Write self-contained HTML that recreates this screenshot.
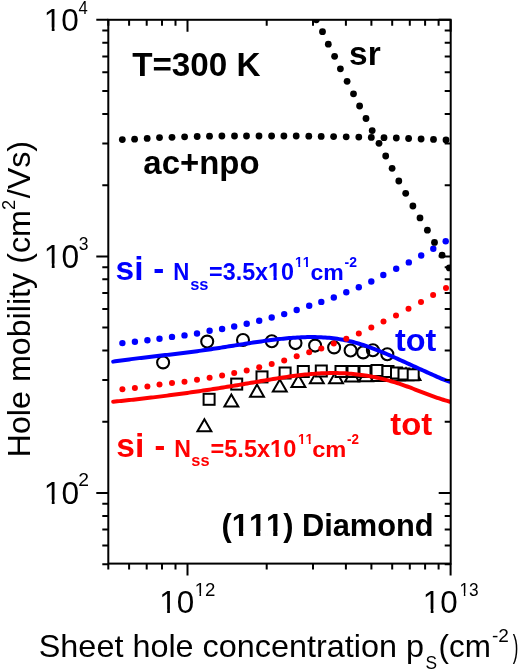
<!DOCTYPE html><html><head><meta charset="utf-8"><style>html,body{margin:0;padding:0;background:#fff;width:520px;height:672px;overflow:hidden}svg{display:block}text{font-family:"Liberation Sans",Arial,sans-serif;white-space:pre;font-kerning:none;font-feature-settings:"kern" 0}</style></head><body><svg width="520" height="672" viewBox="0 0 520 672"><defs><clipPath id="pc"><rect x="108.3" y="19.8" width="342.4" height="543.8"/></clipPath></defs><g clip-path="url(#pc)"><path d="M204.40 419.21L211.35 431.25L197.45 431.25Z" fill="#fff" stroke="#000" stroke-width="2.0" stroke-linejoin="miter"/><path d="M231.35 394.51L238.30 406.55L224.40 406.55Z" fill="#fff" stroke="#000" stroke-width="2.0" stroke-linejoin="miter"/><path d="M257.00 384.61L263.95 396.65L250.05 396.65Z" fill="#fff" stroke="#000" stroke-width="2.0" stroke-linejoin="miter"/><path d="M279.80 379.41L286.75 391.45L272.85 391.45Z" fill="#fff" stroke="#000" stroke-width="2.0" stroke-linejoin="miter"/><path d="M298.40 375.01L305.35 387.05L291.45 387.05Z" fill="#fff" stroke="#000" stroke-width="2.0" stroke-linejoin="miter"/><path d="M316.80 371.31L323.75 383.35L309.85 383.35Z" fill="#fff" stroke="#000" stroke-width="2.0" stroke-linejoin="miter"/><path d="M336.00 371.11L342.95 383.15L329.05 383.15Z" fill="#fff" stroke="#000" stroke-width="2.0" stroke-linejoin="miter"/><path d="M352.00 369.51L358.95 381.55L345.05 381.55Z" fill="#fff" stroke="#000" stroke-width="2.0" stroke-linejoin="miter"/><path d="M366.00 369.21L372.95 381.25L359.05 381.25Z" fill="#fff" stroke="#000" stroke-width="2.0" stroke-linejoin="miter"/><path d="M378.00 368.91L384.95 380.95L371.05 380.95Z" fill="#fff" stroke="#000" stroke-width="2.0" stroke-linejoin="miter"/><path d="M389.00 368.71L395.95 380.75L382.05 380.75Z" fill="#fff" stroke="#000" stroke-width="2.0" stroke-linejoin="miter"/><path d="M398.00 368.41L404.95 380.45L391.05 380.45Z" fill="#fff" stroke="#000" stroke-width="2.0" stroke-linejoin="miter"/><path d="M406.00 368.21L412.95 380.25L399.05 380.25Z" fill="#fff" stroke="#000" stroke-width="2.0" stroke-linejoin="miter"/><path d="M413.50 367.91L420.45 379.95L406.55 379.95Z" fill="#fff" stroke="#000" stroke-width="2.0" stroke-linejoin="miter"/><rect x="203.60" y="393.80" width="11.0" height="11.0" fill="#fff" stroke="#000" stroke-width="2"/><rect x="231.20" y="378.60" width="11.0" height="11.0" fill="#fff" stroke="#000" stroke-width="2"/><rect x="256.50" y="371.40" width="11.0" height="11.0" fill="#fff" stroke="#000" stroke-width="2"/><rect x="279.60" y="367.50" width="11.0" height="11.0" fill="#fff" stroke="#000" stroke-width="2"/><rect x="297.80" y="366.00" width="11.0" height="11.0" fill="#fff" stroke="#000" stroke-width="2"/><rect x="315.80" y="365.50" width="11.0" height="11.0" fill="#fff" stroke="#000" stroke-width="2"/><rect x="335.50" y="366.00" width="11.0" height="11.0" fill="#fff" stroke="#000" stroke-width="2"/><rect x="347.50" y="366.00" width="11.0" height="11.0" fill="#fff" stroke="#000" stroke-width="2"/><rect x="359.50" y="366.00" width="11.0" height="11.0" fill="#fff" stroke="#000" stroke-width="2"/><rect x="371.50" y="365.00" width="11.0" height="11.0" fill="#fff" stroke="#000" stroke-width="2"/><rect x="382.50" y="366.00" width="11.0" height="11.0" fill="#fff" stroke="#000" stroke-width="2"/><rect x="391.00" y="367.50" width="11.0" height="11.0" fill="#fff" stroke="#000" stroke-width="2"/><rect x="398.50" y="368.50" width="11.0" height="11.0" fill="#fff" stroke="#000" stroke-width="2"/><rect x="407.70" y="369.30" width="11.0" height="11.0" fill="#fff" stroke="#000" stroke-width="2"/><circle cx="163.1" cy="362.4" r="6" fill="none" stroke="#000" stroke-width="2.1"/><circle cx="207.2" cy="341.6" r="6" fill="none" stroke="#000" stroke-width="2.1"/><circle cx="243" cy="340" r="6" fill="none" stroke="#000" stroke-width="2.1"/><circle cx="271.8" cy="341.2" r="6" fill="none" stroke="#000" stroke-width="2.1"/><circle cx="295.5" cy="343.1" r="6" fill="none" stroke="#000" stroke-width="2.1"/><circle cx="315.1" cy="345.6" r="6" fill="none" stroke="#000" stroke-width="2.1"/><circle cx="334.1" cy="347.4" r="6" fill="none" stroke="#000" stroke-width="2.1"/><circle cx="350.6" cy="350.5" r="6" fill="none" stroke="#000" stroke-width="2.1"/><circle cx="363.2" cy="352.4" r="6" fill="none" stroke="#000" stroke-width="2.1"/><circle cx="372.9" cy="350.2" r="6" fill="none" stroke="#000" stroke-width="2.1"/><circle cx="387.3" cy="354.2" r="6" fill="none" stroke="#000" stroke-width="2.1"/><path d="M113.2 361.64 L115.2 361.34 L117.2 361.04 L119.2 360.76 L121.2 360.47 L123.2 360.20 L125.2 359.93 L127.2 359.66 L129.2 359.40 L131.2 359.14 L133.2 358.88 L135.2 358.63 L137.2 358.38 L139.2 358.13 L141.2 357.89 L143.2 357.65 L145.2 357.41 L147.2 357.18 L149.2 356.94 L151.2 356.71 L153.2 356.48 L155.2 356.25 L157.2 356.02 L159.2 355.79 L161.2 355.56 L163.2 355.33 L165.2 355.10 L167.2 354.87 L169.2 354.64 L171.2 354.40 L173.2 354.17 L175.2 353.93 L177.2 353.70 L179.2 353.46 L181.2 353.22 L183.2 352.97 L185.2 352.72 L187.2 352.47 L189.2 352.22 L191.2 351.96 L193.2 351.70 L195.2 351.44 L197.2 351.17 L199.2 350.89 L201.2 350.61 L203.2 350.33 L205.2 350.04 L207.2 349.75 L209.2 349.45 L211.2 349.15 L213.2 348.84 L215.2 348.54 L217.2 348.23 L219.2 347.92 L221.2 347.60 L223.2 347.29 L225.2 346.97 L227.2 346.65 L229.2 346.34 L231.2 346.02 L233.2 345.70 L235.2 345.38 L237.2 345.06 L239.2 344.75 L241.2 344.43 L243.2 344.12 L245.2 343.80 L247.2 343.49 L249.2 343.19 L251.2 342.88 L253.2 342.58 L255.2 342.28 L257.2 341.99 L259.2 341.70 L261.2 341.41 L263.2 341.13 L265.2 340.85 L267.2 340.58 L269.2 340.32 L271.2 340.06 L273.2 339.81 L275.2 339.56 L277.2 339.32 L279.2 339.09 L281.2 338.87 L283.2 338.66 L285.2 338.46 L287.2 338.27 L289.2 338.09 L291.2 337.92 L293.2 337.77 L295.2 337.63 L297.2 337.50 L299.2 337.39 L301.2 337.29 L303.2 337.21 L305.2 337.15 L307.2 337.10 L309.2 337.07 L311.2 337.05 L313.2 337.06 L315.2 337.09 L317.2 337.13 L319.2 337.20 L321.2 337.28 L323.2 337.39 L325.2 337.52 L327.2 337.68 L329.2 337.86 L331.2 338.06 L333.2 338.29 L335.2 338.54 L337.2 338.82 L339.2 339.12 L341.2 339.46 L343.2 339.82 L345.2 340.21 L347.2 340.63 L349.2 341.08 L351.2 341.55 L353.2 342.06 L355.2 342.60 L357.2 343.17 L359.2 343.76 L361.2 344.38 L363.2 345.02 L365.2 345.69 L367.2 346.38 L369.2 347.09 L371.2 347.82 L373.2 348.57 L375.2 349.33 L377.2 350.12 L379.2 350.92 L381.2 351.73 L383.2 352.56 L385.2 353.41 L387.2 354.26 L389.2 355.12 L391.2 356.00 L393.2 356.88 L395.2 357.77 L397.2 358.66 L399.2 359.56 L401.2 360.47 L403.2 361.38 L405.2 362.29 L407.2 363.20 L409.2 364.11 L411.2 365.03 L413.2 365.95 L415.2 366.86 L417.2 367.78 L419.2 368.70 L421.2 369.61 L423.2 370.52 L425.2 371.43 L427.2 372.34 L429.2 373.24 L431.2 374.14 L433.2 375.04 L435.2 375.93 L437.2 376.81 L439.2 377.69 L441.2 378.56 L443.2 379.40 L445.2 380.20 L447.2 380.91 L449.2 381.52 L451.2 381.99 L452.0 382.13" fill="none" stroke="#0000ff" stroke-width="4" stroke-linecap="round" stroke-linejoin="round"/><path d="M113.2 401.70 L115.2 401.51 L117.2 401.32 L119.2 401.12 L121.2 400.92 L123.2 400.72 L125.2 400.51 L127.2 400.31 L129.2 400.10 L131.2 399.88 L133.2 399.67 L135.2 399.45 L137.2 399.23 L139.2 399.00 L141.2 398.78 L143.2 398.55 L145.2 398.32 L147.2 398.08 L149.2 397.85 L151.2 397.61 L153.2 397.37 L155.2 397.12 L157.2 396.88 L159.2 396.63 L161.2 396.38 L163.2 396.12 L165.2 395.87 L167.2 395.61 L169.2 395.35 L171.2 395.09 L173.2 394.82 L175.2 394.55 L177.2 394.28 L179.2 394.01 L181.2 393.74 L183.2 393.46 L185.2 393.18 L187.2 392.90 L189.2 392.62 L191.2 392.33 L193.2 392.04 L195.2 391.75 L197.2 391.46 L199.2 391.17 L201.2 390.87 L203.2 390.57 L205.2 390.27 L207.2 389.97 L209.2 389.66 L211.2 389.36 L213.2 389.05 L215.2 388.74 L217.2 388.42 L219.2 388.11 L221.2 387.79 L223.2 387.47 L225.2 387.15 L227.2 386.83 L229.2 386.50 L231.2 386.18 L233.2 385.85 L235.2 385.52 L237.2 385.19 L239.2 384.85 L241.2 384.52 L243.2 384.18 L245.2 383.84 L247.2 383.50 L249.2 383.15 L251.2 382.81 L253.2 382.46 L255.2 382.12 L257.2 381.77 L259.2 381.42 L261.2 381.08 L263.2 380.73 L265.2 380.39 L267.2 380.05 L269.2 379.71 L271.2 379.38 L273.2 379.05 L275.2 378.72 L277.2 378.40 L279.2 378.08 L281.2 377.77 L283.2 377.46 L285.2 377.16 L287.2 376.87 L289.2 376.58 L291.2 376.30 L293.2 376.03 L295.2 375.77 L297.2 375.52 L299.2 375.28 L301.2 375.04 L303.2 374.82 L305.2 374.61 L307.2 374.41 L309.2 374.22 L311.2 374.04 L313.2 373.88 L315.2 373.73 L317.2 373.59 L319.2 373.47 L321.2 373.36 L323.2 373.27 L325.2 373.19 L327.2 373.13 L329.2 373.09 L331.2 373.06 L333.2 373.05 L335.2 373.06 L337.2 373.08 L339.2 373.13 L341.2 373.19 L343.2 373.27 L345.2 373.37 L347.2 373.50 L349.2 373.64 L351.2 373.80 L353.2 373.98 L355.2 374.18 L357.2 374.40 L359.2 374.64 L361.2 374.90 L363.2 375.18 L365.2 375.48 L367.2 375.80 L369.2 376.14 L371.2 376.50 L373.2 376.88 L375.2 377.28 L377.2 377.71 L379.2 378.15 L381.2 378.61 L383.2 379.09 L385.2 379.60 L387.2 380.12 L389.2 380.67 L391.2 381.23 L393.2 381.82 L395.2 382.43 L397.2 383.06 L399.2 383.71 L401.2 384.38 L403.2 385.07 L405.2 385.78 L407.2 386.50 L409.2 387.24 L411.2 387.99 L413.2 388.75 L415.2 389.51 L417.2 390.28 L419.2 391.06 L421.2 391.83 L423.2 392.60 L425.2 393.37 L427.2 394.13 L429.2 394.88 L431.2 395.63 L433.2 396.36 L435.2 397.07 L437.2 397.77 L439.2 398.46 L441.2 399.12 L443.2 399.75 L445.2 400.36 L447.2 400.95 L449.2 401.50 L451.2 402.03 L452.0 402.23" fill="none" stroke="#ff0000" stroke-width="4" stroke-linecap="round" stroke-linejoin="round"/><g fill="#0000ff"><circle cx="122.4" cy="343.1" r="3.2"/><circle cx="134.9" cy="341.7" r="3.2"/><circle cx="147.4" cy="340.2" r="3.2"/><circle cx="159.5" cy="338.8" r="3.2"/><circle cx="172" cy="336.9" r="3.2"/><circle cx="184.5" cy="335.4" r="3.2"/><circle cx="197" cy="333.5" r="3.2"/><circle cx="209.6" cy="330.8" r="3.2"/><circle cx="222.1" cy="329" r="3.2"/><circle cx="234.2" cy="326.5" r="3.2"/><circle cx="246.7" cy="323.7" r="3.2"/><circle cx="259.2" cy="320.8" r="3.2"/><circle cx="271.7" cy="317.5" r="3.2"/><circle cx="284.2" cy="314.1" r="3.2"/><circle cx="296.7" cy="310" r="3.2"/><circle cx="309.2" cy="305.8" r="3.2"/><circle cx="321.3" cy="301.9" r="3.2"/><circle cx="333.8" cy="297.5" r="3.2"/><circle cx="346.3" cy="292.3" r="3.2"/><circle cx="358.8" cy="287.3" r="3.2"/><circle cx="371.3" cy="281.5" r="3.2"/><circle cx="383.3" cy="275" r="3.2"/><circle cx="396.2" cy="268.8" r="3.2"/><circle cx="408.8" cy="262.4" r="3.2"/><circle cx="421.2" cy="255.5" r="3.2"/><circle cx="433.3" cy="248.8" r="3.2"/><circle cx="445.7" cy="241.2" r="3.2"/></g><g fill="#ff0000"><circle cx="122.4" cy="389.2" r="3.0"/><circle cx="134.9" cy="387.9" r="3.0"/><circle cx="147.4" cy="386.5" r="3.0"/><circle cx="159.5" cy="384.6" r="3.0"/><circle cx="172" cy="383.1" r="3.0"/><circle cx="184.5" cy="381.7" r="3.0"/><circle cx="197" cy="379.8" r="3.0"/><circle cx="209.6" cy="377.7" r="3.0"/><circle cx="222.1" cy="375.4" r="3.0"/><circle cx="234.2" cy="372.9" r="3.0"/><circle cx="246.7" cy="370.5" r="3.0"/><circle cx="259.2" cy="367.2" r="3.0"/><circle cx="271.7" cy="364" r="3.0"/><circle cx="284.2" cy="360.4" r="3.0"/><circle cx="296.7" cy="356.2" r="3.0"/><circle cx="309.2" cy="352.3" r="3.0"/><circle cx="321.3" cy="348.5" r="3.0"/><circle cx="333.8" cy="343.5" r="3.0"/><circle cx="346.3" cy="338.7" r="3.0"/><circle cx="358.8" cy="333.5" r="3.0"/><circle cx="371.3" cy="327.5" r="3.0"/><circle cx="383.5" cy="321.5" r="3.0"/><circle cx="396" cy="315.6" r="3.0"/><circle cx="408.5" cy="308.8" r="3.0"/><circle cx="421" cy="302.1" r="3.0"/><circle cx="433.1" cy="295" r="3.0"/><circle cx="446" cy="287.9" r="3.0"/></g><g fill="#000"><circle cx="122.3" cy="139.6" r="3.4"/><circle cx="134.6" cy="139.2" r="3.4"/><circle cx="147.2" cy="138.4" r="3.4"/><circle cx="159.5" cy="137.6" r="3.4"/><circle cx="172" cy="137.3" r="3.4"/><circle cx="184.6" cy="136.8" r="3.4"/><circle cx="197.2" cy="136.5" r="3.4"/><circle cx="209.5" cy="136.2" r="3.4"/><circle cx="221.9" cy="136" r="3.4"/><circle cx="234.5" cy="136" r="3.4"/><circle cx="246.5" cy="136" r="3.4"/><circle cx="259" cy="136" r="3.4"/><circle cx="271.6" cy="136" r="3.4"/><circle cx="283.9" cy="136" r="3.4"/><circle cx="296.2" cy="136" r="3.4"/><circle cx="308.8" cy="136.2" r="3.4"/><circle cx="321.2" cy="136.4" r="3.4"/><circle cx="333.6" cy="136.6" r="3.4"/><circle cx="346.2" cy="136.8" r="3.4"/><circle cx="358.8" cy="137.1" r="3.4"/><circle cx="371.3" cy="137.4" r="3.4"/><circle cx="384" cy="137.7" r="3.4"/><circle cx="396.3" cy="138" r="3.4"/><circle cx="408.6" cy="138.5" r="3.4"/><circle cx="421.1" cy="139" r="3.4"/><circle cx="433.5" cy="139.4" r="3.4"/><circle cx="446" cy="140" r="3.4"/><circle cx="316.3" cy="19.8" r="3.4"/><circle cx="322.5" cy="31.7" r="3.4"/><circle cx="328.3" cy="44.2" r="3.4"/><circle cx="334.6" cy="56.3" r="3.4"/><circle cx="340.4" cy="68.8" r="3.4"/><circle cx="347.1" cy="81.3" r="3.4"/><circle cx="353.5" cy="93.8" r="3.4"/><circle cx="359.6" cy="106" r="3.4"/><circle cx="366" cy="118.5" r="3.4"/><circle cx="372.2" cy="130.6" r="3.4"/><circle cx="379" cy="143.3" r="3.4"/><circle cx="385.7" cy="156" r="3.4"/><circle cx="392.1" cy="168.3" r="3.4"/><circle cx="398.8" cy="181" r="3.4"/><circle cx="405.7" cy="193.3" r="3.4"/><circle cx="412.9" cy="206" r="3.4"/><circle cx="420" cy="217.9" r="3.4"/><circle cx="427.4" cy="230.2" r="3.4"/><circle cx="434.5" cy="242.4" r="3.4"/><circle cx="442.1" cy="255.2" r="3.4"/><circle cx="449.3" cy="267.9" r="3.4"/></g></g><rect x="108.3" y="19.8" width="342.4" height="543.8" fill="none" stroke="#000" stroke-width="2"/><path d="M102.3 564.2H108.3M450.7 564.2H444.7M102.3 545.5H108.3M450.7 545.5H444.7M102.3 529.6H108.3M450.7 529.6H444.7M102.3 515.9H108.3M450.7 515.9H444.7M102.3 503.8H108.3M450.7 503.8H444.7M96.3 493.0H108.3M450.7 493.0H438.7M102.3 421.8H108.3M450.7 421.8H444.7M102.3 380.1H108.3M450.7 380.1H444.7M102.3 350.6H108.3M450.7 350.6H444.7M102.3 327.6H108.3M450.7 327.6H444.7M102.3 308.9H108.3M450.7 308.9H444.7M102.3 293.0H108.3M450.7 293.0H444.7M102.3 279.3H108.3M450.7 279.3H444.7M102.3 267.2H108.3M450.7 267.2H444.7M96.3 256.4H108.3M450.7 256.4H438.7M102.3 185.2H108.3M450.7 185.2H444.7M102.3 143.5H108.3M450.7 143.5H444.7M102.3 114.0H108.3M450.7 114.0H444.7M102.3 91.0H108.3M450.7 91.0H444.7M102.3 72.3H108.3M450.7 72.3H444.7M102.3 56.4H108.3M450.7 56.4H444.7M102.3 42.7H108.3M450.7 42.7H444.7M102.3 30.6H108.3M450.7 30.6H444.7M96.3 19.8H108.3M450.7 19.8H438.7M108.3 563.6V569.6M108.3 19.8V25.8M129.1 563.6V569.6M129.1 19.8V25.8M146.7 563.6V569.6M146.7 19.8V25.8M162.0 563.6V569.6M162.0 19.8V25.8M175.5 563.6V569.6M175.5 19.8V25.8M187.5 563.6V575.6M187.5 19.8V31.8M266.7 563.6V569.6M266.7 19.8V25.8M313.0 563.6V569.6M313.0 19.8V25.8M345.9 563.6V569.6M345.9 19.8V25.8M371.4 563.6V569.6M371.4 19.8V25.8M392.2 563.6V569.6M392.2 19.8V25.8M409.8 563.6V569.6M409.8 19.8V25.8M425.1 563.6V569.6M425.1 19.8V25.8M438.6 563.6V569.6M438.6 19.8V25.8M450.6 563.6V575.6M450.6 19.8V31.8" stroke="#000" stroke-width="2" fill="none"/><text x="43.82" y="31.44" font-size="31.78" textLength="35.06" lengthAdjust="spacingAndGlyphs">10</text><text x="78.57" y="13.95" font-size="18.50" textLength="9.27" lengthAdjust="spacingAndGlyphs">4</text><text x="43.80" y="267.53" font-size="32.49" textLength="35.28" lengthAdjust="spacingAndGlyphs">10</text><text x="78.78" y="250.05" font-size="18.50" textLength="9.74" lengthAdjust="spacingAndGlyphs">3</text><text x="43.80" y="503.84" font-size="32.20" textLength="35.28" lengthAdjust="spacingAndGlyphs">10</text><text x="78.18" y="486.40" font-size="18.50" textLength="10.74" lengthAdjust="spacingAndGlyphs">2</text><text x="159.23" y="613.24" font-size="31.92" textLength="34.94" lengthAdjust="spacingAndGlyphs">10</text><text x="194.76" y="595.75" font-size="18.50" textLength="20.73" lengthAdjust="spacingAndGlyphs">12</text><text x="422.84" y="613.24" font-size="31.92" textLength="34.83" lengthAdjust="spacingAndGlyphs">10</text><text x="459.49" y="595.75" font-size="18.50" textLength="19.22" lengthAdjust="spacingAndGlyphs">13</text><text x="38.78" y="657.40" font-size="31.60" textLength="385.23" lengthAdjust="spacingAndGlyphs">Sheet hole concentration p</text><text x="425.46" y="669.37" font-size="18.50" textLength="11.59" lengthAdjust="spacingAndGlyphs">S</text><text x="438.50" y="657.40" font-size="31.60" textLength="52.32" lengthAdjust="spacingAndGlyphs">(cm</text><text x="491.91" y="642.45" font-size="18.62" textLength="16.90" lengthAdjust="spacingAndGlyphs">-2</text><text x="512.75" y="657.40" font-size="31.60" textLength="5.65" lengthAdjust="spacingAndGlyphs">)</text><g transform="rotate(-90)"><text x="-457.40" y="29.55" font-size="31.40" textLength="247.27" lengthAdjust="spacingAndGlyphs">Hole mobility (cm</text><text x="-209.98" y="14.95" font-size="18.47" textLength="10.25" lengthAdjust="spacingAndGlyphs">2</text><text x="-198.35" y="29.55" font-size="31.40" textLength="57.40" lengthAdjust="spacingAndGlyphs">/Vs)</text></g><text x="132.18" y="75.58" font-size="33.26" textLength="128.38" lengthAdjust="spacingAndGlyphs" font-weight="bold">T=300 K</text><text x="349.08" y="64.95" font-size="33.00" textLength="31.58" lengthAdjust="spacingAndGlyphs" font-weight="bold">sr</text><text x="143.39" y="173.55" font-size="32.30" textLength="116.15" lengthAdjust="spacingAndGlyphs" font-weight="bold">ac+npo</text><text x="221.52" y="535.75" font-size="30.80" textLength="212.16" lengthAdjust="spacingAndGlyphs" font-weight="bold">(111) Diamond</text><text x="394.95" y="351.35" font-size="32.20" textLength="41.39" lengthAdjust="spacingAndGlyphs" font-weight="bold" fill="#0000ff">tot</text><text x="390.35" y="434.65" font-size="32.20" textLength="41.90" lengthAdjust="spacingAndGlyphs" font-weight="bold" fill="#ff0000">tot</text><text x="115.57" y="280.23" font-size="32.50" textLength="27.95" lengthAdjust="spacingAndGlyphs" font-weight="bold" fill="#0000ff">si</text><text x="153.16" y="280.23" font-size="33.00" textLength="11.02" lengthAdjust="spacingAndGlyphs" font-weight="bold" fill="#0000ff">-</text><text x="173.26" y="280.23" font-size="23.00" textLength="16.09" lengthAdjust="spacingAndGlyphs" font-weight="bold" fill="#0000ff">N</text><text x="190.17" y="289.88" font-size="17.00" textLength="18.36" lengthAdjust="spacingAndGlyphs" font-weight="bold" fill="#0000ff">ss</text><text x="209.08" y="280.23" font-size="23.00" textLength="84.92" lengthAdjust="spacingAndGlyphs" font-weight="bold" fill="#0000ff">=3.5x10</text><text x="295.11" y="267.03" font-size="14.00" textLength="15.42" lengthAdjust="spacingAndGlyphs" font-weight="bold" fill="#0000ff">11</text><text x="310.55" y="280.23" font-size="22.70" textLength="33.33" lengthAdjust="spacingAndGlyphs" font-weight="bold" fill="#0000ff">cm</text><text x="344.51" y="267.03" font-size="14.00" textLength="12.40" lengthAdjust="spacingAndGlyphs" font-weight="bold" fill="#0000ff">-2</text><text x="116.37" y="456.83" font-size="32.50" textLength="27.95" lengthAdjust="spacingAndGlyphs" font-weight="bold" fill="#ff0000">si</text><text x="154.39" y="456.83" font-size="33.00" textLength="10.75" lengthAdjust="spacingAndGlyphs" font-weight="bold" fill="#ff0000">-</text><text x="174.30" y="456.83" font-size="23.00" textLength="16.71" lengthAdjust="spacingAndGlyphs" font-weight="bold" fill="#ff0000">N</text><text x="191.37" y="466.18" font-size="17.00" textLength="18.25" lengthAdjust="spacingAndGlyphs" font-weight="bold" fill="#ff0000">ss</text><text x="210.47" y="456.83" font-size="23.00" textLength="85.84" lengthAdjust="spacingAndGlyphs" font-weight="bold" fill="#ff0000">=5.5x10</text><text x="298.02" y="443.63" font-size="14.00" textLength="15.17" lengthAdjust="spacingAndGlyphs" font-weight="bold" fill="#ff0000">11</text><text x="312.23" y="456.83" font-size="22.70" textLength="34.19" lengthAdjust="spacingAndGlyphs" font-weight="bold" fill="#ff0000">cm</text><text x="346.92" y="443.63" font-size="14.00" textLength="11.96" lengthAdjust="spacingAndGlyphs" font-weight="bold" fill="#ff0000">-2</text><rect x="45.43" y="27.47" width="6.32" height="5.47" fill="#fff"/><rect x="54.54" y="27.47" width="6.08" height="5.47" fill="#fff"/><rect x="45.42" y="263.51" width="6.36" height="5.53" fill="#fff"/><rect x="54.59" y="263.51" width="6.11" height="5.53" fill="#fff"/><rect x="45.42" y="499.83" width="6.36" height="5.51" fill="#fff"/><rect x="54.59" y="499.83" width="6.11" height="5.51" fill="#fff"/><rect x="160.83" y="609.25" width="6.31" height="5.48" fill="#fff"/><rect x="169.91" y="609.25" width="6.06" height="5.48" fill="#fff"/><rect x="195.38" y="592.77" width="4.07" height="4.48" fill="#fff"/><rect x="201.09" y="592.77" width="3.92" height="4.48" fill="#fff"/><rect x="424.43" y="609.25" width="6.29" height="5.48" fill="#fff"/><rect x="433.49" y="609.25" width="6.04" height="5.48" fill="#fff"/><rect x="460.01" y="592.77" width="3.83" height="4.48" fill="#fff"/><rect x="465.36" y="592.77" width="3.69" height="4.48" fill="#fff"/><rect x="232.91" y="531.01" width="6.05" height="6.24" fill="#fff"/><rect x="243.18" y="531.01" width="5.66" height="6.24" fill="#fff"/><rect x="250.04" y="531.01" width="6.05" height="6.24" fill="#fff"/><rect x="260.31" y="531.01" width="5.66" height="6.24" fill="#fff"/><rect x="267.16" y="531.01" width="6.05" height="6.24" fill="#fff"/><rect x="277.43" y="531.01" width="5.66" height="6.24" fill="#fff"/><rect x="268.74" y="276.28" width="4.77" height="5.45" fill="#fff"/><rect x="276.71" y="276.28" width="4.48" height="5.45" fill="#fff"/><rect x="295.18" y="264.00" width="3.16" height="4.53" fill="#fff"/><rect x="300.25" y="264.00" width="2.99" height="4.53" fill="#fff"/><rect x="302.89" y="264.00" width="3.16" height="4.53" fill="#fff"/><rect x="307.96" y="264.00" width="2.99" height="4.53" fill="#fff"/><rect x="270.79" y="452.88" width="4.82" height="5.45" fill="#fff"/><rect x="278.84" y="452.88" width="4.52" height="5.45" fill="#fff"/><rect x="298.08" y="440.60" width="3.12" height="4.53" fill="#fff"/><rect x="303.08" y="440.60" width="2.95" height="4.53" fill="#fff"/><rect x="305.66" y="440.60" width="3.12" height="4.53" fill="#fff"/><rect x="310.66" y="440.60" width="2.95" height="4.53" fill="#fff"/></svg></body></html>
